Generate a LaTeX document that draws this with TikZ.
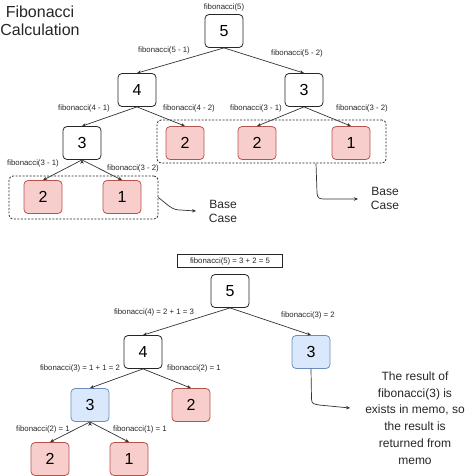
\documentclass[tikz,border=0pt]{standalone}
\usepackage{fontspec}
\setmainfont{Liberation Sans}
\usepackage{xcolor}
\usepackage{tikz}
\usetikzlibrary{arrows.meta}

\definecolor{basefill}{HTML}{F8CECC}
\definecolor{basedraw}{HTML}{B85450}
\definecolor{memofill}{HTML}{DAE8FC}
\definecolor{memodraw}{HTML}{6C8EBF}

\begin{document}
\begin{tikzpicture}[x=1pt, y=-1pt, >={Stealth[length=4pt, width=3.5pt]}]
		\tikzstyle{box} = [draw=black!85, line width=0.8pt, rounded corners=4pt, minimum width=38pt, minimum height=33pt, inner sep=0pt, font=\fontsize{16}{18}\selectfont]
		\tikzstyle{plain} = [box, fill=white]
		\tikzstyle{base} = [box, draw=basedraw, fill=basefill]
		\tikzstyle{memo} = [box, draw=memodraw, fill=memofill]
		\tikzstyle{invis} = [draw=none, inner sep=0pt, text=black!85, font=\fontsize{7.8}{9}\selectfont]
		\tikzstyle{group} = [draw=black!85, line width=0.8pt, dash pattern=on 2pt off 1.5pt, rounded corners=4pt, inner sep=0pt]
		\tikzstyle{arrow} = [draw=black!80, line width=0.7pt, ->]
		\tikzstyle{note} = [draw=none, inner sep=0pt, align=center, text=black!85]
		
		\useasboundingbox (0,0) rectangle (474,476);
		
		% top tree
		\node[note, font=\fontsize{16}{18}\selectfont] at (40,21) (title) {Fibonacci\\Calculation};
		
		\node[group, minimum width=229pt, minimum height=43pt] at (271.5,141.5) (rbox) {};
		\node[group, minimum width=149pt, minimum height=43pt] at (83.5,197.5) (lbox) {};
		
		\node[plain] at (224, 31)	(t5) 	{5};
		\node[plain] at (137, 90)	(t4) 	{4};
		\node[plain] at (304, 90)	(t3) 	{3};
		\node[plain] at (82, 143)	(t43) 	{3};
		\node[base]  at (185, 143)	(t42) 	{2};
		\node[base]  at (257, 143)	(t32) 	{2};
		\node[base]  at (351, 143)	(t31) 	{1};
		\node[base]  at (43, 197)	(t432) 	{2};
		\node[base]  at (122, 197)	(t431) 	{1};
		
		\node[invis] at (224, 7)	(l5)	{fibonacci(5)};
		\node[invis] at (164, 50)	(l51)	{fibonacci(5 - 1)};
		\node[invis] at (297, 53)	(l52)	{fibonacci(5 - 2)};
		\node[invis] at (84, 108)	(l41)	{fibonacci(4 - 1)};
		\node[invis] at (189, 108)	(l42)	{fibonacci(4 - 2)};
		\node[invis] at (256, 108)	(l31)	{fibonacci(3 - 1)};
		\node[invis] at (362, 108)	(l32)	{fibonacci(3 - 2)};
		\node[invis] at (33, 163)	(l431)	{fibonacci(3 - 1)};
		\node[invis] at (133, 168)	(l432)	{fibonacci(3 - 2)};
		
		\path[arrow]
		(t5.south) 	edge 	(t4.north)
		(t5.south) 	edge 	(t3.north)
		(t4.south) 	edge 	(t43.north)
		(t4.south) 	edge 	(t42.north)
		(t3.south) 	edge 	(t32.north)
		(t3.south) 	edge 	(t31.north)
		(t43.south) edge 	(t432.north)
		(t43.south) edge 	(t431.north);
		
		\node[note, font=\fontsize{12}{14}\selectfont] at (223, 211) (lbase) {Base\\Case};
		\node[note, font=\fontsize{12}{14}\selectfont] at (385, 198) (rbase) {Base\\Case};
		\coordinate (lend) at (196, 211);
		\coordinate (rend) at (358, 199);
		
		\draw[arrow] (lbox.east) .. controls (168,205) and (172,210) .. (180,210) -- (lend);
		\draw[arrow] ([xshift=44.5pt]rbox.south) -- (317,193) .. controls (317.5,198) and (319,199) .. (324,199) -- (rend);
		
		% bottom tree
		\node[draw=black!85, line width=0.6pt, minimum width=105pt, minimum height=13pt, inner sep=0pt, text=black!85, font=\fontsize{7.8}{9}\selectfont] at (230, 261) (sum) {fibonacci(5) = 3 + 2 = 5};
		
		\node[plain] at (230, 291)	(b5) 	{5};
		\node[plain] at (143, 352)	(b4) 	{4};
		\node[memo]  at (311, 352)	(b3) 	{3};
		\node[memo]  at (90, 405)	(b43) 	{3};
		\node[base]  at (191, 405)	(b42) 	{2};
		\node[base]  at (50, 459)	(b432) 	{2};
		\node[base]  at (129, 459)	(b431) 	{1};
		
		\node[invis] at (154, 312)	(m4)	{fibonacci(4) = 2 + 1 = 3};
		\node[invis] at (308, 315)	(m3)	{fibonacci(3) = 2};
		\node[invis] at (80, 368)	(m43)	{fibonacci(3) = 1 + 1 = 2};
		\node[invis] at (194, 368)	(m42)	{fibonacci(2) = 1};
		\node[invis] at (43, 429)	(m432)	{fibonacci(2) = 1};
		\node[invis] at (140, 429)	(m431)	{fibonacci(1) = 1};
		
		\path[arrow]
		(b5.south) 	edge 	(b4.north)
		(b5.south) 	edge 	(b3.north)
		(b4.south) 	edge 	(b43.north)
		(b4.south) 	edge 	(b42.north)
		(b43.south) edge 	(b432.north)
		(b43.south) edge 	(b431.north);
		
		\node[note, font=\fontsize{12}{16.8}\selectfont] at (415, 418) (memotext) {The result of\\fibonacci(3) is\\exists in memo, so\\the result is\\returned from\\memo};
		\coordinate (memoend) at (350, 408);
		
		\draw[arrow] (b3.south) -- (311.5,399) .. controls (311.5,404) and (314,404) .. (319,405) -- (memoend);
	\end{tikzpicture}
\end{document}
